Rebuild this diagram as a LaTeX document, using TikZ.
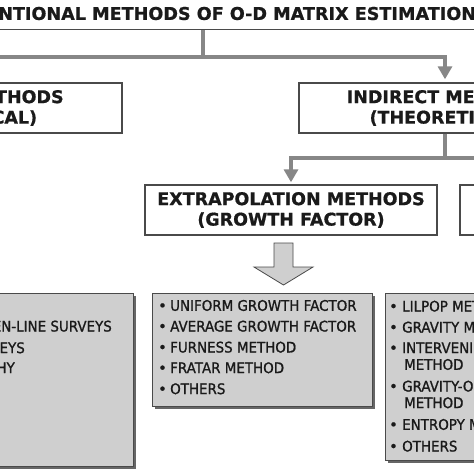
\documentclass[tikz,border=0pt]{standalone}
\usepackage{fontspec}
\setmainfont{DejaVu Sans}
\newfontfamily\itemfont[FakeBold=1.2]{DejaVu Sans}
\newfontfamily\headfont[FakeBold=0.8]{DejaVu Sans Bold}
\usetikzlibrary{arrows.meta,shadows}
\definecolor{connc}{HTML}{878787}
\definecolor{edgec}{HTML}{4A4A4A}
\definecolor{boxfill}{HTML}{CFCFCF}
\definecolor{ink}{HTML}{1A1A1A}
\newcommand{\itx}[1]{\scalebox{0.92}[1]{#1}}
\begin{document}
\begin{tikzpicture}[x=1pt,y=-1pt,
  headbox/.style={draw=edgec,line width=1.4pt,fill=white,minimum width=292pt,minimum height=50pt,
    align=center,font=\headfont\fontsize{17.5}{20.5}\selectfont,text=ink,inner sep=0pt},
  connline/.style={draw=connc,line width=4pt},
  arr/.style={connline,-{Triangle[length=13pt,width=14pt]}},
  listbox/.style={draw=edgec,line width=0.8pt,fill=boxfill,
    drop shadow={shadow xshift=3pt,shadow yshift=-3pt,fill=black!60,opacity=1}},
  item/.style={anchor=base west,font=\itemfont\fontsize{14.6}{16}\selectfont,text=ink,inner sep=0pt},
  itemr/.style={item,anchor=base east}]
\useasboundingbox (0,0) rectangle (474,474);
\clip (0,0) rectangle (474,474);
\fill[white] (0,0) rectangle (474,474);

% title
\node[draw=edgec,line width=1.4pt,fill=white,minimum width=640pt,minimum height=32pt,inner sep=0pt,
  font=\headfont\fontsize{17.6}{20}\selectfont,text=ink] (title) at (203,13.5) {CONVENTIONAL METHODS OF O-D MATRIX ESTIMATION};

% level 1
\node[headbox] (direct) at (-24,108) {DIRECT METHODS\\(EMPIRICAL)};
\node[headbox] (indirect) at (445,108) {INDIRECT METHODS\\(THEORETICAL)};
\coordinate (j1) at (204,57);
\draw[arr] (title.south) -- (title.south |- j1) -| ([yshift=3pt]indirect.north);
\draw[arr] (title.south |- j1) -| ([yshift=3pt]direct.north);

% level 2
\node[headbox] (extrap) at (291,210) {EXTRAPOLATION METHODS\\(GROWTH FACTOR)};
\node[headbox] (synth) at (606,210) {};
\coordinate (j2) at (445,158);
\draw[arr] (indirect.south) -- (indirect.south |- j2) -| ([yshift=2pt]extrap.north);
\draw[arr] (indirect.south |- j2) -| ([yshift=2pt]synth.north);

% block arrow
\draw[draw=edgec,fill=boxfill,line width=0.8pt] (274,243) -- (293,243) -- (293,267) -- (313,267)
  -- (283.5,285) -- (254,267) -- (274,267) -- cycle;

% list boxes
\node[listbox,minimum width=223pt,minimum height=173pt] (leftlist) at (21.5,379.5) {};
\node[listbox,minimum width=220pt,minimum height=113pt] (midlist) at (262,349.5) {};
\node[listbox,minimum width=220pt,minimum height=167pt] (rightlist) at (495,376.5) {};

% left list items
\node[itemr] (l1) at (112,331.5) {\itx{• CORDON / SCREEN-LINE SURVEYS}};
\node[itemr] (l2) at (25,353.1) {\itx{• ROADSIDE SURVEYS}};
\node[itemr] (l3) at (15,373.1) {\itx{• AERIAL PHOTOGRAPHY}};

% middle list items
\node[item] (mb1) at (158,310.8) {•};
\node[item] (m1) at (170,310.8) {\itx{UNIFORM GROWTH FACTOR}};
\node[item] (mb2) at (158,331.5) {•};
\node[item] (m2) at (170,331.5) {\itx{AVERAGE GROWTH FACTOR}};
\node[item] (mb3) at (158,352.5) {•};
\node[item] (m3) at (170,352.5) {\itx{FURNESS METHOD}};
\node[item] (mb4) at (158,373.1) {•};
\node[item] (m4) at (170,373.1) {\itx{FRATAR METHOD}};
\node[item] (mb5) at (158,394.1) {•};
\node[item] (m5) at (170,394.1) {\itx{OTHERS}};

% right list items
\node[item] (rb1) at (389,311.5) {•};
\node[item] (r1) at (402,311.5) {\itx{LILPOP METHOD}};
\node[item] (rb2) at (389,332.5) {•};
\node[item] (r2) at (402,332.5) {\itx{GRAVITY MODEL}};
\node[item] (rb3) at (389,353.1) {•};
\node[item] (r3) at (402,353.1) {\itx{INTERVENING OPPORTUNITY}};
\node[item] (r3b) at (404,369.8) {\itx{METHOD}};
\node[item] (rb4) at (389,391.5) {•};
\node[item] (r4) at (402,391.5) {\itx{GRAVITY-OPPORTUNITY}};
\node[item] (r4b) at (404,408.1) {\itx{METHOD}};
\node[item] (rb5) at (389,429.8) {•};
\node[item] (r5) at (402,429.8) {\itx{ENTROPY METHOD}};
\node[item] (rb6) at (389,451.5) {•};
\node[item] (r6) at (402,451.5) {\itx{OTHERS}};
\end{tikzpicture}
\end{document}
